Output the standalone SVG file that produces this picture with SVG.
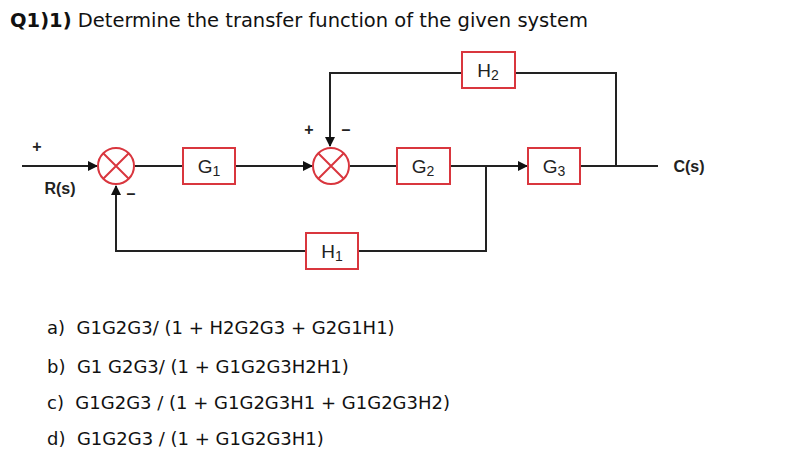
<svg xmlns="http://www.w3.org/2000/svg" width="801" height="465" viewBox="0 0 801 465">
<style>
.b{fill:#fff;stroke:#d9363e;stroke-width:2}
.s{fill:#fff;stroke:#d9363e;stroke-width:2}
.l{fill:none;stroke:#222;stroke-width:2}
.t{font-family:Arial,"Liberation Sans",sans-serif;font-size:19px;fill:#222;text-anchor:middle}
.m{font-family:Arial,"Liberation Sans",sans-serif;font-size:16px;font-weight:bold;fill:#222;text-anchor:middle}
.q{font-family:"DejaVu Sans",Verdana,sans-serif;font-size:18px;fill:#111;white-space:pre}
.h{font-family:"DejaVu Sans",Verdana,sans-serif;font-size:19.5px;fill:#111}
</style>
<defs><marker id="a" markerWidth="10" markerHeight="10" refX="9" refY="5" orient="auto" markerUnits="userSpaceOnUse"><path d="M0,0L10,5L0,10z" fill="#111"/></marker></defs>
<rect width="801" height="465" fill="#fff"/>
<text class="h" x="10" y="27"><tspan font-weight="bold">Q1)1)</tspan> Determine the transfer function of the given system</text>
<g id="connectors">
<path class="l" d="M22,166H97" marker-end="url(#a)"/>
<path class="l" d="M135,166H183"/>
<path class="l" d="M235,166H312" marker-end="url(#a)"/>
<path class="l" d="M350,166H397"/>
<path class="l" d="M450,166H527" marker-end="url(#a)"/>
<path class="l" d="M580,166H658"/>
<path class="l" d="M616,166V73H515"/>
<path class="l" d="M462,73H330V146" marker-end="url(#a)"/>
<path class="l" d="M486,166V251H358"/>
<path class="l" d="M306,251H116V186" marker-end="url(#a)"/>
</g>
<g id="sum1"><circle class="s" cx="116" cy="166" r="18"/><path class="s" d="M103,153L129,179M129,153L103,179"/></g>
<g id="sum2"><circle class="s" cx="331" cy="166" r="18"/><path class="s" d="M318,153L344,179M344,153L318,179"/></g>
<g id="G1"><rect class="b" x="183" y="148" width="52" height="36"/><text class="t" x="209" y="173">G<tspan font-size="14" dy="3">1</tspan></text></g>
<g id="G2"><rect class="b" x="397" y="148" width="53" height="36"/><text class="t" x="423" y="173">G<tspan font-size="14" dy="3">2</tspan></text></g>
<g id="G3"><rect class="b" x="528" y="148" width="52" height="36"/><text class="t" x="554" y="173">G<tspan font-size="14" dy="3">3</tspan></text></g>
<g id="H1"><rect class="b" x="306" y="233" width="52" height="36"/><text class="t" x="332" y="258">H<tspan font-size="14" dy="3">1</tspan></text></g>
<g id="H2"><rect class="b" x="462" y="52" width="53" height="36"/><text class="t" x="488" y="77">H<tspan font-size="14" dy="3">2</tspan></text></g>
<g id="labels">
<text class="m" x="37" y="152">+</text>
<text class="m" x="60" y="194">R(s)</text>
<text class="m" x="131" y="199">–</text>
<text class="m" x="309" y="135">+</text>
<text class="m" x="346" y="135">–</text>
<text class="m" x="689" y="172">C(s)</text>
</g>
<text class="q" x="47" y="334" xml:space="preserve">a)  G1G2G3/ (1 + H2G2G3 + G2G1H1)</text>
<text class="q" x="47" y="373" xml:space="preserve">b)  G1 G2G3/ (1 + G1G2G3H2H1)</text>
<text class="q" x="47" y="409" xml:space="preserve">c)  G1G2G3 / (1 + G1G2G3H1 + G1G2G3H2)</text>
<text class="q" x="47" y="445" xml:space="preserve">d)  G1G2G3 / (1 + G1G2G3H1)</text>
</svg>
